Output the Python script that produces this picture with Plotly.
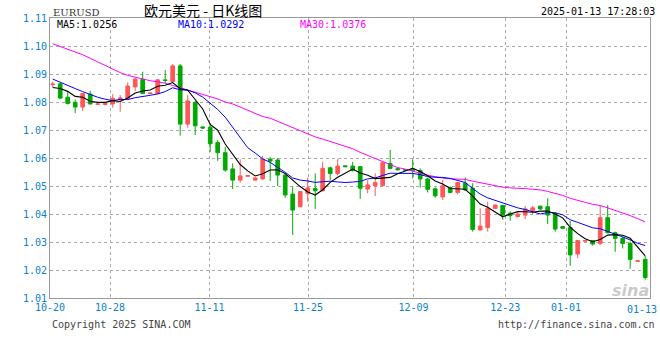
import plotly.graph_objects as go

# ---- data (EURUSD daily K) ----
opens = [1.0862, 1.0865, 1.0817, 1.0799, 1.0782, 1.0828, 1.0792, 1.0791, 1.0793, 1.0812,
         1.0812, 1.0854, 1.0881, 1.0830, 1.0830, 1.0879, 1.0873, 1.0929, 1.0721, 1.0798,
         1.0711, 1.0710, 1.0655, 1.0619, 1.0561, 1.0521, 1.0535, 1.0521, 1.0525, 1.0596,
         1.0593, 1.0539, 1.0471, 1.0426, 1.0474, 1.0491, 1.0483, 1.0565, 1.0545, 1.0572,
         1.0571, 1.0569, 1.0489, 1.0501, 1.0501, 1.0581, 1.0562, 1.0559, 1.0562, 1.0555,
         1.0525, 1.0490, 1.0461, 1.0495, 1.0477, 1.0510, 1.0492, 1.0343, 1.0352, 1.0420,
         1.0431, 1.0403, 1.0391, 1.0396, 1.0412, 1.0428, 1.0426, 1.0403, 1.0355, 1.0351,
         1.0257, 1.0303, 1.0305, 1.0295, 1.0387, 1.0333, 1.0313, 1.0295, 1.0231, 1.0238]
highs = [1.0872, 1.0868, 1.0838, 1.0809, 1.0833, 1.0840, 1.0794, 1.0798, 1.0828, 1.0825,
         1.0870, 1.0886, 1.0908, 1.0833, 1.0882, 1.0914, 1.0936, 1.0936, 1.0825, 1.0804,
         1.0712, 1.0725, 1.0664, 1.0640, 1.0581, 1.0595, 1.0538, 1.0530, 1.0608, 1.0603,
         1.0600, 1.0545, 1.0498, 1.0481, 1.0530, 1.0545, 1.0587, 1.0569, 1.0596, 1.0573,
         1.0586, 1.0571, 1.0521, 1.0545, 1.0587, 1.0629, 1.0565, 1.0560, 1.0595, 1.0563,
         1.0530, 1.0495, 1.0521, 1.0498, 1.0515, 1.0531, 1.0510, 1.0420, 1.0444, 1.0434,
         1.0432, 1.0409, 1.0406, 1.0429, 1.0429, 1.0430, 1.0456, 1.0405, 1.0357, 1.0375,
         1.0307, 1.0306, 1.0307, 1.0432, 1.0432, 1.0337, 1.0319, 1.0301, 1.0234, 1.0250]
lows = [1.0853, 1.0810, 1.0791, 1.0760, 1.0768, 1.0791, 1.0791, 1.0788, 1.0780, 1.0765,
        1.0807, 1.0839, 1.0829, 1.0829, 1.0829, 1.0867, 1.0870, 1.0680, 1.0708, 1.0682,
        1.0705, 1.0622, 1.0590, 1.0551, 1.0489, 1.0512, 1.0534, 1.0520, 1.0524, 1.0518,
        1.0500, 1.0458, 1.0325, 1.0425, 1.0444, 1.0418, 1.0480, 1.0521, 1.0537, 1.0568,
        1.0552, 1.0454, 1.0474, 1.0464, 1.0500, 1.0561, 1.0556, 1.0555, 1.0527, 1.0494,
        1.0477, 1.0458, 1.0450, 1.0474, 1.0470, 1.0482, 1.0337, 1.0341, 1.0337, 1.0418,
        1.0379, 1.0376, 1.0388, 1.0382, 1.0400, 1.0416, 1.0364, 1.0337, 1.0347, 1.0215,
        1.0242, 1.0302, 1.0287, 1.0289, 1.0331, 1.0265, 1.0277, 1.0205, 1.0230, 1.0165]
closes = [1.0864, 1.0814, 1.0795, 1.0782, 1.0830, 1.0793, 1.0793, 1.0795, 1.0813, 1.0814,
          1.0857, 1.0882, 1.0830, 1.0832, 1.0879, 1.0877, 1.0929, 1.0721, 1.0804, 1.0715,
          1.0707, 1.0651, 1.0619, 1.0557, 1.0521, 1.0536, 1.0537, 1.0529, 1.0596, 1.0589,
          1.0539, 1.0468, 1.0414, 1.0480, 1.0493, 1.0483, 1.0563, 1.0545, 1.0571, 1.0569,
          1.0555, 1.0492, 1.0504, 1.0512, 1.0583, 1.0563, 1.0558, 1.0557, 1.0556, 1.0525,
          1.0488, 1.0465, 1.0501, 1.0477, 1.0512, 1.0486, 1.0345, 1.0357, 1.0420, 1.0432,
          1.0396, 1.0394, 1.0400, 1.0418, 1.0422, 1.0418, 1.0396, 1.0346, 1.0349, 1.0254,
          1.0305, 1.0305, 1.0293, 1.0387, 1.0333, 1.0313, 1.0295, 1.0238, 1.0233, 1.0173]

# moving-average values at the left edge (they depend on days before the window)
ma5_head = [1.0852, 1.0848, 1.0838, 1.0820]
ma10_head = [1.0882, 1.0870, 1.0858, 1.0848, 1.0837, 1.0827, 1.0817, 1.0810, 1.0805]
ma30_head = [1.1008, 1.0998, 1.0988, 1.0978, 1.0969, 1.0956, 1.0943, 1.0930, 1.0917, 1.0905,
             1.0895, 1.0888, 1.0881, 1.0876, 1.0872, 1.0867, 1.0859, 1.0851, 1.0844, 1.0837,
             1.0828, 1.0819, 1.0811, 1.0800, 1.0793, 1.0782, 1.0771, 1.0760, 1.0748]

tick_index = [7.65, 20.9, 34.05, 48.1, 60.35, 68.45]
tick_labels = ["10-28", "11-11", "11-25", "12-09", "12-23", "01-01"]
first_label = "10-20"
last_label = "01-13"

y_ticks = [1.01, 1.02, 1.03, 1.04, 1.05, 1.06, 1.07, 1.08, 1.09, 1.10, 1.11]

title_text = "欧元美元 - 日K线图"
symbol_text = "EURUSD"
time_text = "2025-01-13 17:28:03"
ma_labels = ["MA5:1.0256", "MA10:1.0292", "MA30:1.0376"]
copyright_text = "Copyright 2025 SINA.COM"
url_text = "http://finance.sina.com.cn"

N = len(closes)
x = list(range(N))


def moving_avg(head, n):
    out = list(head)
    for i in range(len(head), N):
        out.append(sum(closes[i - n + 1:i + 1]) / n)
    return out


ma5 = moving_avg(ma5_head, 5)
ma10 = moving_avg(ma10_head, 10)
ma30 = moving_avg(ma30_head, 30)

RED = "#ff5757"
GREEN = "#00a800"
BLUE_TXT = "#0a7fd2"
MONO = "DejaVu Sans Mono"

fig = go.Figure()
fig.add_trace(go.Candlestick(
    x=x, open=opens, high=highs, low=lows, close=closes,
    increasing=dict(line=dict(color=RED, width=1), fillcolor=RED),
    decreasing=dict(line=dict(color=GREEN, width=1), fillcolor=GREEN),
    whiskerwidth=0, showlegend=False, hoverinfo="skip"))
fig.add_trace(go.Scatter(x=x, y=ma30, mode="lines", line=dict(color="#ff00ff", width=1),
                         showlegend=False, hoverinfo="skip"))
fig.add_trace(go.Scatter(x=x, y=ma10, mode="lines", line=dict(color="#0000ff", width=1),
                         showlegend=False, hoverinfo="skip"))
fig.add_trace(go.Scatter(x=x, y=ma5, mode="lines", line=dict(color="#000000", width=1.1),
                         showlegend=False, hoverinfo="skip"))

x_lo = -0.36
x_hi = N - 1 + 0.64

fig.update_layout(
    width=660, height=360,
    margin=dict(l=50, r=10, t=18, b=62, autoexpand=False),
    paper_bgcolor="white", plot_bgcolor="white",
    xaxis=dict(range=[x_lo, x_hi], tickvals=[x_lo] + tick_index, ticktext=[first_label] + tick_labels,
               showgrid=True, gridcolor="#aaaaaa", griddash="dot", gridwidth=1,
               showline=True, linecolor="#9a9a9a", linewidth=1, mirror=True,
               ticks="", zeroline=False, rangeslider=dict(visible=False),
               tickfont=dict(family=MONO, size=10, color=BLUE_TXT), tickangle=0),
    yaxis=dict(range=[1.01, 1.11], tickvals=y_ticks, tickformat=".2f",
               showgrid=True, gridcolor="#aaaaaa", griddash="dot", gridwidth=1,
               showline=True, linecolor="#9a9a9a", linewidth=1, mirror=True,
               ticks="", zeroline=False,
               tickfont=dict(family=MONO, size=10, color=BLUE_TXT)),
    font=dict(family=MONO),
)


def px_x(px):
    return (px - 50) / 600.0


def px_y(py):
    return (298 - py) / 280.0


ann = []
ann.append(dict(text=title_text, x=px_x(203), y=px_y(10), xanchor="center", yanchor="middle",
                font=dict(family="Noto Sans CJK SC", size=14, color="#000")))
ann.append(dict(text=symbol_text, x=px_x(51), y=px_y(12), xanchor="left", yanchor="middle",
                font=dict(family="DejaVu Serif", size=10, color="#333")))
ann.append(dict(text=time_text, x=px_x(657), y=px_y(11), xanchor="right", yanchor="middle",
                font=dict(family=MONO, size=10, color="#000")))
for label, px, col in zip(ma_labels, [55, 176, 298], ["#000000", "#0000ff", "#ff00ff"]):
    ann.append(dict(text=label, x=px_x(px), y=px_y(24), xanchor="left", yanchor="middle",
                    font=dict(family=MONO, size=10, color=col)))
ann.append(dict(text=last_label, x=px_x(642), y=px_y(309), xanchor="center", yanchor="middle",
                font=dict(family=MONO, size=10, color=BLUE_TXT)))
ann.append(dict(text=copyright_text, x=px_x(50), y=px_y(324), xanchor="left", yanchor="middle",
                font=dict(family=MONO, size=10, color="#444")))
ann.append(dict(text=url_text, x=px_x(657), y=px_y(324), xanchor="right", yanchor="middle",
                font=dict(family=MONO, size=10, color="#444")))
ann.append(dict(text="<b><i>sina</i></b>", x=px_x(630), y=px_y(290), xanchor="center", yanchor="middle",
                font=dict(family="DejaVu Sans", size=16, color="rgba(185,185,185,0.75)")))
for a in ann:
    a.update(xref="paper", yref="paper", showarrow=False)
fig.update_layout(annotations=ann)

fig.write_html("out.html", config={"displayModeBar": False},
               post_script="document.body.style.margin='0';document.body.style.padding='0';")
